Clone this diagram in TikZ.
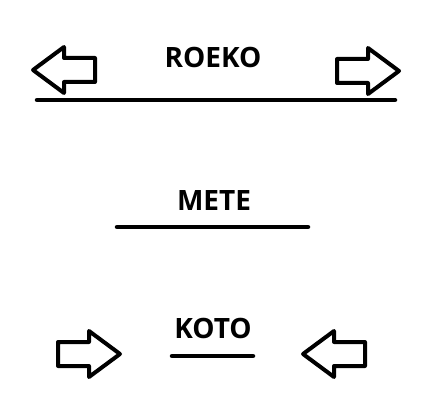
\documentclass[tikz,border=0pt]{standalone}
\usepackage{fontspec}
\newfontfamily\labelfont{Open Sans}
\begin{document}
\begin{tikzpicture}[x=1pt, y=-1pt,
    label/.style={
        font=\labelfont\bfseries\fontsize{28}{30}\selectfont,
        anchor=base,
        inner sep=0pt
    },
    bar/.style={
        line width=4.5pt,
        line cap=round
    },
    outline/.style={
        line width=4pt,
        line join=round
    },
    pics/blockarrow/.style={
        code={
            \draw[outline] (-62,-12) -- (-31,-12) -- (-31,-23) -- (0,0)
                -- (-31,23) -- (-31,12) -- (-62,12) -- cycle;
        }
    }
]
\useasboundingbox (0,0) rectangle (426,414);

%%%%%%%%%%%%%%%%%%%%%%%%
% ROEKO
%%%%%%%%%%%%%%%%%%%%%%%%

\node[label] (roeko) at (213,68) {ROEKO};
\draw[bar] (37,100) -- (395,100);

\pic[rotate=180] at (33,70) {blockarrow};
\pic at (399,71) {blockarrow};

%%%%%%%%%%%%%%%%%%%%%%%%
% METE
%%%%%%%%%%%%%%%%%%%%%%%%

\node[label] (mete) at (214,211) {METE};
\draw[bar] (117,227) -- (308,227);

%%%%%%%%%%%%%%%%%%%%%%%%
% KOTO
%%%%%%%%%%%%%%%%%%%%%%%%

\node[label] (koto) at (213,338) {KOTO};
\draw[bar] (172,356) -- (253,356);

\pic at (120,354) {blockarrow};
\pic[rotate=180] at (303,354) {blockarrow};

\end{tikzpicture}
\end{document}
